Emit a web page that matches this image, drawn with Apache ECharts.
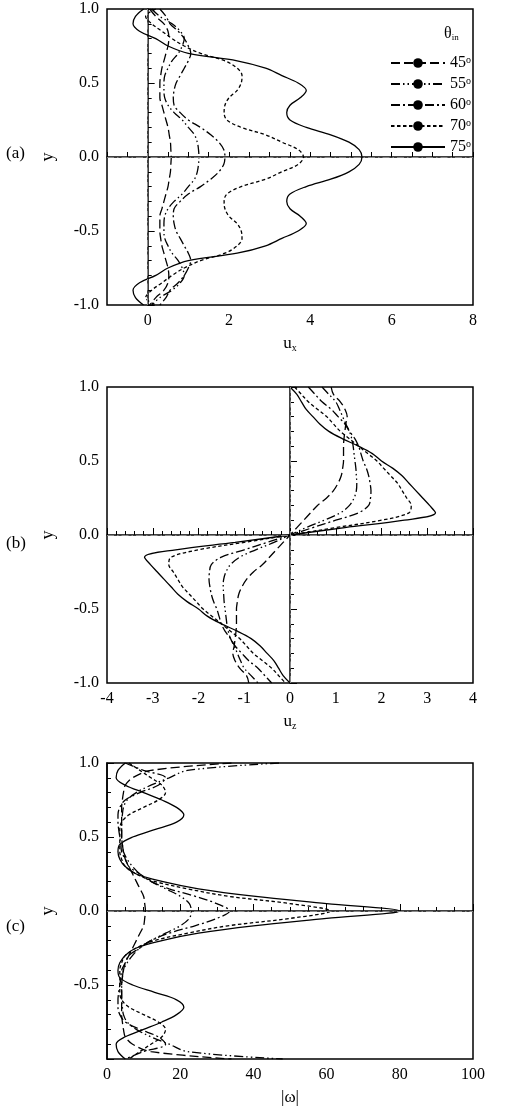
<!DOCTYPE html>
<html>
<head>
<meta charset="utf-8">
<script src="https://cdn.jsdelivr.net/npm/echarts@6/dist/echarts.min.js"></script>
<style>
  html, body { margin: 0; padding: 0; background: #fff; }
  #chart { width: 520px; height: 1114px; }
</style>
</head>
<body>
<div id="chart"></div>
<script>
// wall-normal coordinate, shared by all curves (top to bottom)
const yPts = [1, 0.95, 0.9, 0.85, 0.8, 0.75, 0.7, 0.65, 0.6, 0.55, 0.5, 0.45, 0.4, 0.35, 0.3, 0.25, 0.2, 0.15, 0.1, 0.05, 0,
  -0.05, -0.1, -0.15, -0.2, -0.25, -0.3, -0.35, -0.4, -0.45, -0.5, -0.55, -0.6, -0.65, -0.7, -0.75, -0.8, -0.85, -0.9, -0.95, -1];

const angles = ['45', '55', '60', '70', '75'];

// panel (a): u_x
const ux45 = [0.05, 0.2, 0.4, 0.5, 0.52, 0.5, 0.45, 0.4, 0.35, 0.32, 0.3, 0.3, 0.3, 0.35, 0.4, 0.45, 0.5, 0.53, 0.56, 0.57, 0.58,
  0.57, 0.56, 0.53, 0.5, 0.45, 0.4, 0.35, 0.3, 0.3, 0.3, 0.32, 0.35, 0.4, 0.45, 0.5, 0.52, 0.5, 0.4, 0.2, 0.05];
const ux55 = [0.1, 0.3, 0.6, 0.8, 0.9, 0.85, 0.75, 0.6, 0.5, 0.42, 0.4, 0.4, 0.42, 0.5, 0.65, 0.85, 1.0, 1.15, 1.22, 1.25, 1.26,
  1.25, 1.22, 1.15, 1.0, 0.85, 0.65, 0.5, 0.42, 0.4, 0.4, 0.42, 0.5, 0.6, 0.75, 0.85, 0.9, 0.8, 0.6, 0.3, 0.1];
const ux60 = [0.3, 0.45, 0.55, 0.75, 0.9, 1.0, 1.06, 1.0, 0.9, 0.8, 0.7, 0.65, 0.63, 0.65, 0.8, 1.0, 1.3, 1.55, 1.75, 1.87, 1.9,
  1.87, 1.75, 1.55, 1.3, 1.0, 0.8, 0.65, 0.63, 0.65, 0.7, 0.8, 0.9, 1.0, 1.06, 1.0, 0.9, 0.75, 0.55, 0.45, 0.3];
const ux70 = [0.2, -0.05, 0.1, 0.35, 0.6, 0.9, 1.3, 1.9, 2.2, 2.32, 2.3, 2.2, 2.0, 1.9, 1.88, 1.95, 2.3, 2.9, 3.3, 3.7, 3.83,
  3.7, 3.3, 2.9, 2.3, 1.95, 1.88, 1.9, 2.0, 2.2, 2.3, 2.32, 2.2, 1.9, 1.3, 0.9, 0.6, 0.35, 0.1, -0.05, 0.2];
const ux75 = [-0.1, -0.3, -0.36, -0.2, 0.2, 0.5, 1.0, 2.2, 2.9, 3.3, 3.7, 3.9, 3.75, 3.5, 3.42, 3.5, 3.9, 4.5, 4.95, 5.2, 5.27,
  5.2, 4.95, 4.5, 3.9, 3.5, 3.42, 3.5, 3.75, 3.9, 3.7, 3.3, 2.9, 2.2, 1.0, 0.5, 0.2, -0.2, -0.36, -0.3, -0.1];

// panel (b): u_z
const uz45 = [0.9, 0.95, 1.1, 1.2, 1.25, 1.22, 1.2, 1.18, 1.17, 1.17, 1.17, 1.15, 1.12, 1.05, 0.95, 0.8, 0.6, 0.45, 0.3, 0.15, 0,
  -0.15, -0.3, -0.45, -0.6, -0.8, -0.95, -1.05, -1.12, -1.15, -1.17, -1.17, -1.17, -1.18, -1.2, -1.22, -1.25, -1.2, -1.1, -0.95, -0.9];
const uz55 = [0.7, 0.85, 1.0, 1.08, 1.15, 1.22, 1.3, 1.35, 1.38, 1.4, 1.42, 1.44, 1.45, 1.46, 1.45, 1.4, 1.3, 1.1, 0.75, 0.35, 0,
  -0.35, -0.75, -1.1, -1.3, -1.4, -1.45, -1.46, -1.45, -1.44, -1.42, -1.4, -1.38, -1.35, -1.3, -1.22, -1.15, -1.08, -1.0, -0.85, -0.7];
const uz60 = [0.4, 0.55, 0.7, 0.9, 1.05, 1.2, 1.3, 1.42, 1.5, 1.55, 1.6, 1.67, 1.72, 1.75, 1.77, 1.76, 1.72, 1.5, 1.0, 0.5, 0,
  -0.5, -1.0, -1.5, -1.72, -1.76, -1.77, -1.75, -1.72, -1.67, -1.6, -1.55, -1.5, -1.42, -1.3, -1.2, -1.05, -0.9, -0.7, -0.55, -0.4];
const uz70 = [0.1, 0.25, 0.4, 0.6, 0.8, 0.95, 1.1, 1.3, 1.5, 1.7, 1.9, 2.05, 2.2, 2.35, 2.45, 2.55, 2.65, 2.6, 2.0, 1.0, 0,
  -1.0, -2.0, -2.6, -2.65, -2.55, -2.45, -2.35, -2.2, -2.05, -1.9, -1.7, -1.5, -1.3, -1.1, -0.95, -0.8, -0.6, -0.4, -0.25, -0.1];
const uz75 = [0, 0.15, 0.25, 0.35, 0.5, 0.65, 0.85, 1.15, 1.5, 1.8, 2.0, 2.25, 2.45, 2.6, 2.75, 2.9, 3.05, 3.18, 2.5, 1.2, 0,
  -1.2, -2.5, -3.18, -3.05, -2.9, -2.75, -2.6, -2.45, -2.25, -2.0, -1.8, -1.5, -1.15, -0.85, -0.65, -0.5, -0.35, -0.25, -0.15, 0];

// panel (c): |omega|
const om45 = [34, 12, 7, 5, 4.5, 4.2, 4, 4, 4, 4, 4, 4.2, 4.5, 5, 6, 7, 8, 9, 10, 10.3, 10.5,
  10.3, 10, 9, 8, 7, 6, 5, 4.5, 4.2, 4, 4, 4, 4, 4, 4.2, 4.5, 5, 7, 12, 34];
const om55 = [47, 22, 17, 12, 8, 5.5, 4.5, 4.2, 4, 4, 4, 4.2, 4.5, 5.5, 7, 9, 12, 16, 20, 22.5, 23,
  22.5, 20, 16, 12, 9, 7, 5.5, 4.5, 4.2, 4, 4, 4, 4.2, 4.5, 5.5, 8, 12, 17, 22, 48];
const om60 = [5, 10, 16, 14, 9, 5, 3.5, 3, 3, 3.2, 3.5, 3.8, 4, 5, 6, 9, 12, 17, 24, 30, 33.5,
  30, 24, 17, 12, 9, 6, 5, 4, 3.8, 3.5, 3.2, 3, 3, 3.5, 5, 9, 14, 16, 10, 5];
const om70 = [6, 9, 12, 15, 16, 14, 10, 6, 4, 3.5, 3.5, 3.5, 3.5, 4, 5, 8, 13, 22, 33, 50, 61,
  50, 33, 22, 13, 8, 5, 4, 3.5, 3.5, 3.5, 3.5, 4, 6, 10, 14, 16, 15, 12, 9, 6];
const om75 = [5, 3, 2.5, 5, 10, 15, 19, 21, 19, 13, 7, 3.5, 3, 3.5, 5, 8, 15, 25, 40, 60, 80,
  60, 40, 25, 15, 8, 5, 3.5, 3, 3.5, 7, 13, 19, 21, 19, 15, 10, 5, 2.5, 3, 5];

// tick positions for panel (a), whose axis starts at -1
const uxTicks = [0, 2, 4, 6, 8];
const uxMinorTicks = [-1, -0.5, 0, 0.5, 1, 1.5, 2, 2.5, 3, 3.5, 4, 4.5, 5, 5.5, 6, 6.5, 7, 7.5, 8];

const dashes = {
  '45': [9, 4],
  '55': [9, 3, 1.5, 3, 1.5, 3],
  '60': [9, 3, 2, 3],
  '70': [3.5, 2.5],
  '75': 'solid'
};

const FONT = 'Liberation Serif';
const panels = [
  { vals: [ux45, ux55, ux60, ux70, ux75], min: -1, max: 8, interval: 2, minor: 4, name: '{t|u}{s|x}', top: 9 },
  { vals: [uz45, uz55, uz60, uz70, uz75], min: -4, max: 4, interval: 1, minor: 5, name: '{t|u}{s|z}', top: 387 },
  { vals: [om45, om55, om60, om70, om75], min: 0, max: 100, interval: 20, minor: 4, name: '{t||ω|}', top: 763 }
];

const chart = echarts.init(document.getElementById('chart'));

const grids = [], xAxes = [], yAxes = [], series = [];
const refLine = { color: '#888', width: 1, type: [7, 3, 1.5, 3] };

panels.forEach((p, pi) => {
  grids.push({ left: 107, right: 47, top: p.top, height: 296, show: true, borderColor: '#000', borderWidth: 1.5 });
  const x = {
    type: 'value', gridIndex: pi, min: p.min, max: p.max,
    axisLine: { lineStyle: { color: '#000', width: 1.5 } },
    axisTick: { inside: true, length: 7, lineStyle: { color: '#000' } },
    minorTick: { show: true, splitNumber: p.minor, length: 4, lineStyle: { color: '#000' } },
    splitLine: { show: false },
    axisLabel: { color: '#000', fontFamily: FONT, fontSize: 16, margin: 8 },
    name: p.name, nameLocation: 'middle', nameGap: 30,
    nameTextStyle: {
      rich: {
        t: { fontFamily: FONT, fontSize: 17, color: '#000' },
        s: { fontFamily: FONT, fontSize: 10, color: '#000', verticalAlign: 'bottom', padding: [8, 0, 0, 0] }
      }
    }
  };
  if (pi === 0) {
    x.axisLabel.customValues = uxTicks;
    x.axisTick.customValues = uxMinorTicks;
    x.axisTick.length = 5;
    x.minorTick.show = false;
  } else {
    x.interval = p.interval;
  }
  xAxes.push(x);
  yAxes.push({
    type: 'value', gridIndex: pi, min: -1, max: 1, interval: 0.5,
    axisLine: { lineStyle: { color: '#000', width: 1.5 } },
    axisTick: { inside: true, length: 7, lineStyle: { color: '#000' } },
    minorTick: { show: true, splitNumber: 5, length: 4, lineStyle: { color: '#000' } },
    splitLine: { show: false },
    axisLabel: {
      color: '#000', fontFamily: FONT, fontSize: 16, margin: 8,
      formatter: v => (pi === 2 && v === -1) ? '' : v.toFixed(1)
    },
    name: 'y', nameLocation: 'middle', nameGap: 50, nameRotate: 90,
    nameTextStyle: { fontFamily: FONT, fontSize: 18, color: '#000' }
  });

  p.vals.forEach((vals, si) => {
    const s = {
      name: angles[si],
      type: 'line', xAxisIndex: pi, yAxisIndex: pi,
      data: vals.map((v, i) => [v, yPts[i]]),
      smooth: 0.35, symbol: 'none',
      lineStyle: { color: '#000', width: 1.3, type: dashes[angles[si]] },
      itemStyle: { color: '#000' },
      z: 3
    };
    if (si === 0) {
      const refs = [{ yAxis: 0 }];
      if (pi < 2) refs.push({ xAxis: 0 });
      s.markLine = { silent: true, symbol: 'none', label: { show: false }, lineStyle: refLine, data: refs };
    }
    series.push(s);
  });
});

const option = {
  backgroundColor: '#fff',
  animation: false,
  grid: grids,
  xAxis: xAxes,
  yAxis: yAxes,
  series: series,
  legend: {
    show: true,
    data: angles,
    orient: 'vertical',
    left: 385, top: 50,
    itemWidth: 54, itemHeight: 12, itemGap: 5,
    formatter: n => '{a|' + n + '}{o|o}',
    textStyle: {
      color: '#000',
      rich: {
        a: { fontFamily: FONT, fontSize: 16, color: '#000' },
        o: { fontFamily: FONT, fontSize: 10, color: '#000', verticalAlign: 'top' }
      }
    }
  },
  graphic: [
    { type: 'text', left: 444, top: 26, style: { text: '{t|θ}{s|in}', rich: {
      t: { fontFamily: FONT, fontSize: 16, fill: '#000' },
      s: { fontFamily: FONT, fontSize: 9, fill: '#000', verticalAlign: 'bottom', padding: [8, 0, 0, 0] } } } },
    { type: 'text', left: 6, top: 145, style: { text: '(a)', font: '17px ' + FONT, fill: '#000' } },
    { type: 'text', left: 6, top: 535, style: { text: '(b)', font: '17px ' + FONT, fill: '#000' } },
    { type: 'text', left: 6, top: 918, style: { text: '(c)', font: '17px ' + FONT, fill: '#000' } }
  ]
};

chart.setOption(option);
</script>
</body>
</html>
